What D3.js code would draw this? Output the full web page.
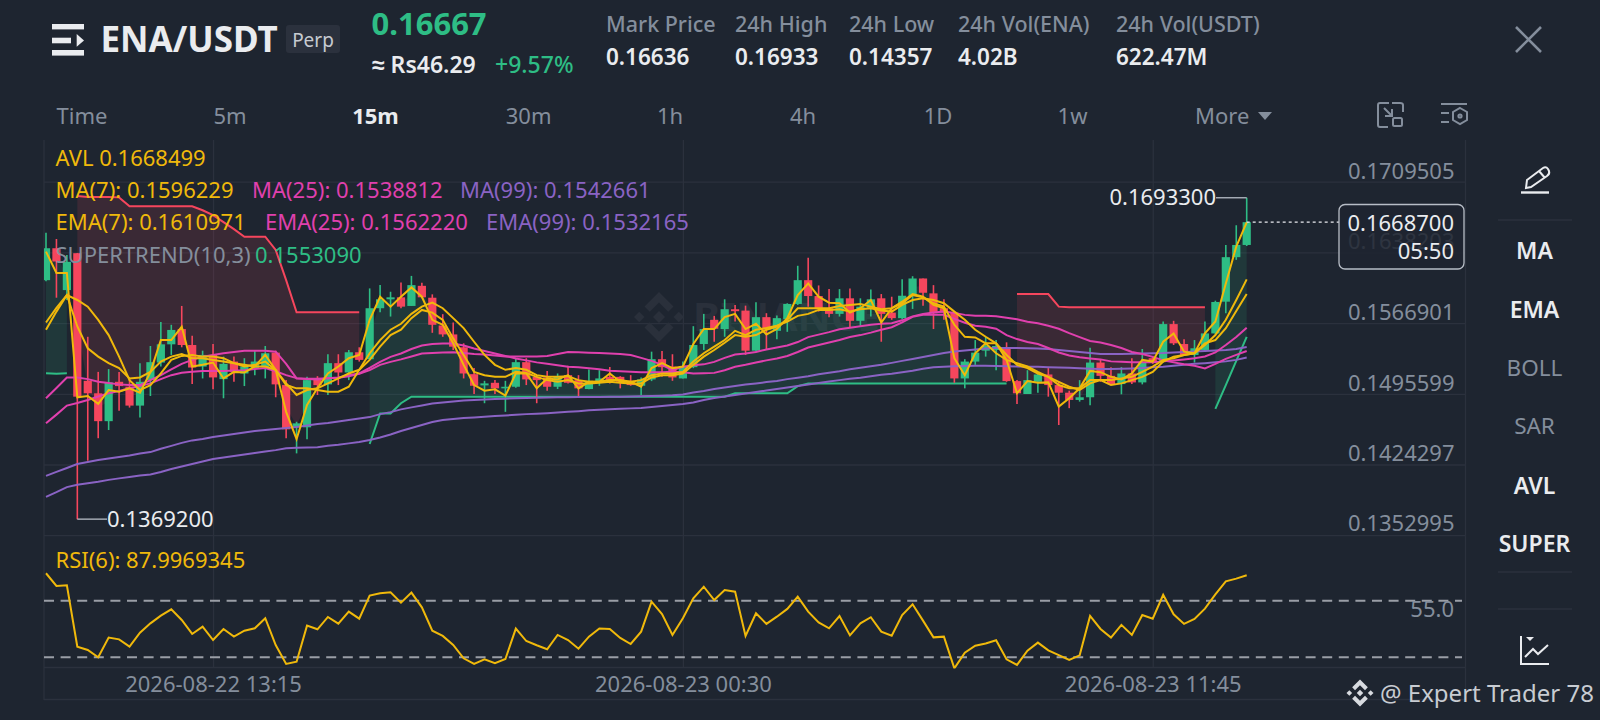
<!DOCTYPE html>
<html><head><meta charset="utf-8">
<script src="https://cdn.jsdelivr.net/npm/d3@7"></script>
<style>html,body{margin:0;background:#1E2530;overflow:hidden}svg{display:block}text{font-family:"Noto Sans",sans-serif}</style>
</head><body><svg id="c" width="1600" height="720"></svg>
<script>
const priceTicks=[0.1709505,0.1638203,0.1566901,0.1495599,0.1424297,0.1352995];
const timeTickIndex=[16,61,106];
const timeTickLabels=["2026-08-22 13:15","2026-08-23 00:30","2026-08-23 11:45"];
const open=[
.16102,.16424,.16002,.16374,.15087,.14961,.1468,.15077,.15027,.14837,
.15094,.15271,.15455,.15609,.15448,.15231,.15348,.15104,.15281,.15161,
.15215,.15225,.15371,.15044,.14618,.14618,.15101,.15051,.15265,.15171,
.15375,.15305,.15819,.15909,.15929,.15842,.16045,.15925,.15645,.15555,
.15425,.15154,.15041,.15067,.15011,.15027,.15275,.15127,.15121,.15027,
.15144,.15094,.15004,.15077,.15127,.15127,.15087,.15037,.15101,.15305,
.15231,.15111,.15225,.15458,.15702,.15609,.15809,.15795,.15391,.15729,
.15591,.15709,.15862,.16102,.15942,.15819,.15762,.15919,.15692,.15819,
.15919,.15775,.15719,.15942,.16119,.15969,.15819,.15775,.15111,.15281,
.15391,.15398,.15415,.15084,.14954,.15077,.15151,.15044,.14967,.14894,
.14921,.15271,.15137,.15054,.15161,.15071,.15315,.15281,.15659,.15458,
.15348,.15398,.15565,.15885,.16334,.16457];
const high=[
.1658,.16517,.16357,.16377,.15531,.15177,.15205,.15177,.15111,.15265,
.15438,.15679,.15652,.15842,.15541,.15391,.15458,.15331,.15331,.15315,
.15398,.15438,.15391,.15094,.14674,.15127,.15134,.15355,.15355,.15398,
.15425,.16019,.16052,.15985,.16079,.16145,.16075,.15959,.15759,.15675,
.15465,.15215,.15087,.15094,.15087,.15308,.15315,.15144,.15187,.15161,
.15238,.15144,.15201,.15194,.15227,.15134,.15144,.15121,.15381,.15388,
.15355,.15281,.15638,.15762,.15742,.15909,.15852,.15845,.15879,.15769,
.15745,.15869,.16247,.16327,.16049,.16012,.16012,.16019,.15919,.16009,
.15962,.15935,.16112,.16142,.16119,.16052,.15909,.15785,.15305,.15498,
.15531,.15498,.15475,.15094,.15194,.15167,.15215,.15077,.14987,.15094,
.15421,.15298,.15225,.15225,.15315,.15408,.15331,.15685,.15692,.15505,
.15498,.15685,.15895,.16457,.16657,.16933];
const low=[
.16092,.15925,.15902,.13692,.14281,.14508,.14591,.14784,.14817,.14718,
.14934,.15231,.15348,.15425,.15054,.15111,.15001,.14911,.15077,.15034,
.15144,.15111,.14921,.14508,.14355,.14498,.14944,.14944,.15044,.15094,
.15281,.15298,.15779,.15735,.15819,.15842,.15919,.15571,.15531,.15398,
.15111,.14954,.14861,.14954,.14774,.15017,.15044,.14861,.14987,.15004,
.15061,.14934,.15001,.15037,.15061,.15011,.15037,.14944,.15084,.15127,
.15087,.15111,.15215,.15398,.15481,.15531,.15685,.15348,.15381,.15398,
.15505,.15581,.15852,.15835,.15785,.15729,.15735,.15619,.15642,.15735,
.15481,.15702,.15709,.15812,.15845,.15609,.15702,.15067,.15011,.15248,
.15331,.15194,.15077,.14854,.14954,.14967,.14927,.14641,.14811,.14877,
.14841,.15077,.15054,.14951,.15054,.15051,.15258,.15271,.15448,.15338,
.15271,.15391,.15558,.15769,.16307,.16447];
const close=[
.16424,.1629,.16287,.14927,.14961,.1468,.15071,.15034,.14837,.15077,
.15275,.15455,.156,.15448,.15221,.15348,.15121,.15258,.15177,.15231,
.15281,.15365,.15051,.14598,.14658,.15094,.15044,.15265,.15171,.15375,
.15298,.15819,.15909,.15929,.15835,.16052,.15929,.15652,.15555,.15431,
.15161,.15037,.15061,.15011,.15027,.15275,.15101,.15094,.15027,.15127,
.15067,.15011,.15087,.15111,.15087,.15077,.15044,.15101,.15305,.15225,
.15121,.15231,.15448,.15609,.15612,.15809,.15789,.15391,.15729,.15602,
.15719,.15862,.16102,.15942,.15809,.15762,.15919,.15692,.15835,.15909,
.15762,.15719,.15945,.16119,.15975,.15769,.15775,.15111,.15281,.15371,
.15441,.15438,.15084,.14961,.15094,.15151,.15044,.14967,.14894,.14921,
.15271,.15137,.15054,.15161,.15071,.15271,.15271,.15659,.15465,.15348,
.15415,.15565,.15882,.16334,.16457,.16687];
const avl=[
.1639,.16175,.16175,.14921,.14934,.14854,.14994,.14977,.15011,.14967,
.15174,.15498,.15498,.15632,.15231,.15248,.15271,.15111,.15177,.15171,
.15231,.15348,.15198,.14774,.14498,.14844,.15014,.15161,.15231,.15315,
.15348,.15702,.15935,.15835,.15935,.16029,.15935,.15702,.15652,.15465,
.15248,.15044,.14987,.15001,.14937,.15161,.15161,.15011,.15111,.15101,
.15144,.15011,.15077,.15077,.15161,.15077,.15077,.15027,.15215,.15265,
.15215,.15231,.15458,.15609,.15609,.15729,.15762,.15609,.15662,.15555,
.15609,.15719,.15952,.16069,.15935,.15875,.15869,.15775,.15819,.15902,
.15675,.15819,.15885,.15962,.15935,.15852,.15819,.15315,.15144,.15365,
.15465,.15465,.15298,.14961,.15084,.15067,.15071,.14827,.14911,.15011,
.15187,.15174,.15127,.15101,.15161,.15298,.15281,.15481,.15565,.15381,
.15365,.15565,.15685,.16069,.1644,.16685];
const ma7=[
.15602,.15785,.15952,.15902,.15835,.15702,.15548,.15331,.15094,.14994,
.15044,.15161,.15298,.15338,.15348,.15331,.15331,.15315,.15265,.15248,
.15231,.15231,.15198,.15044,.15011,.15011,.14994,.14977,.14977,.15027,
.15198,.15365,.15498,.15602,.15662,.15762,.15835,.15875,.15819,.15719,
.15619,.15481,.15348,.15248,.15198,.15215,.15198,.15144,.15127,.15127,
.15134,.15094,.15077,.15077,.15094,.15094,.15077,.15094,.15144,.15161,
.15161,.15177,.15281,.15365,.15431,.15498,.15591,.15548,.15602,.15619,
.15642,.15685,.15742,.15762,.15802,.15802,.15809,.15785,.15809,.15819,
.15795,.15785,.15852,.15902,.15919,.15902,.15869,.15785,.15702,.15602,
.15531,.15465,.15348,.15248,.15215,.15161,.15127,.15077,.15027,.14994,
.15061,.15094,.15094,.15111,.15127,.15177,.15231,.15298,.15315,.15348,
.15365,.15465,.15498,.15618,.15792,.15962];
const ema7=[
.15675,.15822,.15952,.15635,.15415,.15331,.15265,.15215,.15111,.15121,
.15177,.15281,.15331,.15358,.15315,.15315,.15298,.15281,.15265,.15231,
.15248,.15281,.15194,.15061,.14944,.14994,.15011,.15061,.15111,.15161,
.15198,.15298,.15431,.15548,.15602,.15719,.15802,.15775,.15702,.15515,
.15348,.15177,.15144,.15127,.15127,.15177,.15167,.15127,.15094,.15077,
.15094,.15061,.15061,.15067,.15077,.15067,.15061,.15061,.15121,.15144,
.15144,.15161,.15248,.15331,.15398,.15471,.15548,.15531,.15548,.15602,
.15635,.15702,.15819,.15819,.15819,.15819,.15842,.15852,.15862,.15835,
.15809,.15819,.15869,.15952,.15929,.15869,.15835,.15652,.15531,.15525,
.15465,.15365,.15298,.15265,.15231,.15177,.15127,.15044,.15011,.15011,
.15094,.15094,.15044,.15061,.15094,.15127,.15177,.15281,.15331,.15348,
.15365,.15448,.15548,.15702,.15902,.16110];
const ma25=[
.14658,.14746,.14837,.14864,.14894,.14929,.14961,.14984,.15011,.15034,
.15061,.15104,.15144,.15169,.15179,.15187,.15187,.15187,.15191,.15194,
.15205,.15215,.15184,.15144,.15114,.15107,.15109,.15114,.15119,.15134,
.15159,.15194,.15248,.15278,.15303,.15333,.15363,.15368,.15373,.15375,
.15368,.15358,.15353,.15343,.15333,.15331,.15331,.15331,.15338,.15358,
.15378,.15375,.15371,.15368,.15363,.15358,.15348,.15318,.15288,.15248,
.15194,.15228,.15243,.15253,.15278,.15318,.15353,.15363,.15378,.15403,
.15423,.15443,.15478,.15528,.15553,.15578,.15607,.15622,.15637,.15652,
.15662,.15667,.15697,.15737,.15762,.15777,.15785,.15772,.15752,.15742,
.15742,.15737,.15722,.15707,.15682,.15667,.15642,.15612,.15568,.15528,
.15488,.15473,.15448,.15418,.15378,.15358,.15328,.15293,.15273,.15253,
.15238,.15211,.15258,.15308,.15348,.15388];
const ema25=[
.14911,.15014,.15121,.15121,.15104,.15077,.15064,.15051,.15044,.15044,
.15094,.15144,.15203,.15258,.15298,.15331,.15348,.15365,.15378,.15391,
.15391,.15391,.15381,.15258,.15111,.15104,.15101,.15114,.15121,.15144,
.15161,.15218,.15278,.15328,.15363,.15408,.15443,.15458,.15463,.15463,
.15443,.15413,.15388,.15363,.15338,.15313,.15293,.15273,.15258,.15243,
.15228,.15223,.15213,.15203,.15189,.15184,.15179,.15174,.15174,.15174,
.15179,.15174,.15161,.15164,.15167,.15194,.15228,.15248,.15271,.15293,
.15313,.15338,.15378,.15423,.15448,.15473,.15498,.15528,.15548,.15573,
.15602,.15627,.15677,.15732,.15752,.15752,.15752,.15712,.15672,.15642,
.15632,.15612,.15548,.15508,.15478,.15458,.15418,.15373,.15343,.15325,
.15313,.15303,.15283,.15278,.15273,.15273,.15275,.15283,.15293,.15303,
.15315,.15333,.15373,.15448,.15528,.15622];
const ma99=[
.14128,.14168,.14208,.14248,.14268,.14288,.14303,.14318,.14333,.14353,
.14368,.14401,.14431,.14461,.14486,.14501,.14521,.14536,.14551,.14566,
.14581,.14591,.14601,.14611,.14621,.14636,.14651,.14661,.14676,.14691,
.14706,.14721,.14751,.14771,.14799,.14819,.14839,.14859,.14869,.14879,
.14889,.14894,.14899,.14904,.14907,.14911,.14914,.14916,.14919,.14921,
.14922,.14923,.14924,.14924,.14926,.14927,.14929,.14932,.14934,.14937,
.14941,.14949,.14969,.14984,.15004,.15019,.15034,.15049,.15061,.15074,
.15084,.15104,.15119,.15134,.15154,.15169,.15184,.15203,.15218,.15233,
.15248,.15268,.15288,.15308,.15328,.15348,.15368,.15383,.15393,.15403,
.15413,.15418,.15418,.15418,.15415,.15413,.15408,.15398,.15388,.15378,
.15368,.15358,.15358,.15358,.15361,.15363,.15366,.15368,.15373,.15378,
.15383,.15388,.15393,.15398,.15408,.15427];
const ema99=[
.13917,.13964,.14015,.14038,.14053,.14068,.14088,.14103,.14118,.14133,
.14143,.14168,.14198,.14223,.14248,.14273,.14298,.14313,.14328,.14343,
.14358,.14373,.14388,.14406,.14411,.14414,.14418,.14431,.14441,.14456,
.14471,.14491,.14516,.14546,.14581,.14611,.14641,.14671,.14691,.14701,
.14711,.14718,.14724,.14731,.14738,.14744,.14751,.14756,.14761,.14768,
.14774,.14781,.14789,.14794,.14799,.14804,.14809,.14814,.14824,.14834,
.14844,.14854,.14869,.14894,.14914,.14929,.14944,.14959,.14974,.14989,
.15004,.15019,.15034,.15049,.15064,.15079,.15094,.15107,.15119,.15134,
.15147,.15159,.15174,.15189,.15208,.15223,.15228,.15233,.15236,.15238,
.15238,.15236,.15233,.15231,.15228,.15228,.15225,.15221,.15218,.15213,
.15208,.15205,.15205,.15208,.15211,.15215,.15223,.15228,.15238,.15248,
.15258,.15265,.15273,.15283,.15298,.15322];
const _=null;
const superUp=[
.15164,.15159,.15164,_,_,_,_,_,_,_,
_,_,_,_,_,_,_,_,_,_,
_,_,_,_,_,_,_,_,_,_,
_,.1445,.14758,.14758,.14861,.14927,.14927,.14927,.14927,.14927,
.14927,.14927,.14927,.14927,.14927,.14927,.14927,.14927,.14927,.14927,
.14927,.14927,.14927,.14927,.14927,.14927,.14927,.14927,.14927,.14927,
.14927,.14927,.14927,.14927,.14927,.14927,.14961,.14961,.14961,.14961,
.14961,.14961,.15034,.15061,.15061,.15061,.15061,.15061,.15061,.15061,
.15061,.15061,.15061,.15061,.15061,.15061,.15061,.15061,.15061,.15061,
.15061,.15061,.15061,_,_,_,_,_,_,_,
_,_,_,_,_,_,_,_,_,_,
_,_,.14804,.15044,.15288,.15531];
const superDown=[
_,_,_,.1695,.1694,.1694,.1694,.16937,.16848,.16848,
.16848,.16848,.16848,.16848,.16848,.16807,.16757,.16687,.16617,.1654,
.1654,.1654,.16407,.16102,.15779,.15779,.15779,.15779,.15779,.15779,
.15779,_,_,_,_,_,_,_,_,_,
_,_,_,_,_,_,_,_,_,_,
_,_,_,_,_,_,_,_,_,_,
_,_,_,_,_,_,_,_,_,_,
_,_,_,_,_,_,_,_,_,_,
_,_,_,_,_,_,_,_,_,_,
_,_,_,.15962,.15962,.15962,.15962,.15835,.15829,.15829,
.15829,.15829,.15829,.15829,.15829,.15829,.15829,.15829,.15829,.15829,
.15829,.15829,_,_,_,_];
const rsi6=[
89.4,80.4,80.9,37.5,35.2,30,43.9,42.7,37.5,47.4,
54,59.4,63.9,56.4,46.5,51.7,42.2,50,44.6,48.8,
50.5,57.6,38.7,25.3,26.9,52.4,49.8,58.5,53.8,62.3,
57.3,73.6,75.2,75.9,68.6,75.7,65.3,48.8,45.1,38.7,
29.3,25.3,28.6,25.8,28.8,50.3,41.5,38.5,35.7,45.8,
42.2,36.1,44.6,50.3,50,43.7,39.4,48.1,69.3,60.6,
45.8,57.6,71.7,79.9,70.5,77.6,76.4,45.1,61.1,53.6,
58.7,64.2,72.9,62.3,54.7,50.5,59.2,45.5,54,58.3,
48.1,45.3,59.9,67.5,55.9,44.1,44.6,22.2,33.3,38.2,
39.7,42,28.6,24.6,34.7,40.4,34.9,31.6,28.1,31.4,
59.2,50,43.9,52.9,45.8,59.9,57.3,74.1,60.4,53.6,
57.1,64.4,74.5,83.7,85.6,88];
const tabs=["Time","5m","15m","30m","1h","4h","1D","1w"];
const sideButtons=["MA","EMA","BOLL","SAR","AVL","SUPER"];
const sideActive=["MA","EMA","AVL","SUPER"];
const headerNames=["Mark Price","24h High","24h Low","24h Vol(ENA)","24h Vol(USDT)"];
const headerValues=["0.16636","0.16933","0.14357","4.02B","622.47M"];

const GREEN="#2EBD85",RED="#F6465D",GOLD="#F0B90B",PINK="#E040AE",PURPLE="#8A63C4",GREY="#848E9C",WHITE="#EAECEF",GRID="#2B313D";
const FS=22;
const svg=d3.select("#c");
const L=44,R=1465.5;
const x=d3.scaleLinear().domain([0,115]).range([46,1246.7]);
const y=d3.scaleLinear().domain([0.1352995,0.1709505]).range([535.2,181.7]);
const yr=d3.scaleLinear().domain([30,70]).range([657.3,600.7]);
const defs=svg.append("defs");
defs.append("clipPath").attr("id","cp").append("rect").attr("x",L).attr("y",140).attr("width",R-L).attr("height",400);
defs.append("clipPath").attr("id","cr").append("rect").attr("x",L).attr("y",540).attr("width",R-L).attr("height",128.5);
function txt(t,px,py,o={}){return svg.append("text").text(t).attr("x",px).attr("y",py).attr("dy",".35em")
  .attr("fill",o.fill||WHITE).attr("font-size",o.size||FS).attr("font-weight",o.w||400).attr("text-anchor",o.a||"start");}

// frame and grid
const frame=svg.append("g").attr("stroke",GRID).attr("stroke-width",1.3);
frame.append("line").attr("x1",L).attr("x2",L).attr("y1",140).attr("y2",700);
frame.append("line").attr("x1",R).attr("x2",R).attr("y1",140).attr("y2",700);
frame.append("line").attr("x1",L).attr("x2",R).attr("y1",667.5).attr("y2",667.5);
frame.append("line").attr("x1",L).attr("x2",R).attr("y1",699.5).attr("y2",699.5);
const gridY=svg.append("g").attr("transform",`translate(${L},0)`).call(d3.axisRight(y).tickValues(priceTicks).tickSize(R-L).tickFormat(""));
gridY.select(".domain").remove();gridY.selectAll("line").attr("stroke",GRID).attr("stroke-width",1.3);
const gridX=svg.append("g").attr("transform","translate(0,667)").call(d3.axisTop(x).tickValues(timeTickIndex).tickSize(527).tickFormat(""));
gridX.select(".domain").remove();gridX.selectAll("line").attr("stroke",GRID).attr("stroke-width",1.3);

// watermark
function binanceLogo(g,cx,cy,s,fill){
  const paths=["M0,-1 L.58,-.42 L.37,-.21 L0,-.58 L-.37,-.21 L-.58,-.42Z","M0,1 L.58,.42 L.37,.21 L0,.58 L-.37,.21 L-.58,.42Z",
   "M-1,0 L-.79,-.21 L-.58,0 L-.79,.21Z","M1,0 L.79,-.21 L.58,0 L.79,.21Z","M0,-.24 L.24,0 L0,.24 L-.24,0Z"];
  g.append("g").attr("transform",`translate(${cx},${cy}) scale(${s})`).selectAll("path").data(paths).join("path").attr("d",d=>d).attr("fill",fill);
}
const chart=svg.append("g").attr("clip-path","url(#cp)");
binanceLogo(chart,659,317,25,"#2A303B");
chart.append("text").text("BINANCE").attr("x",693).attr("y",331).attr("fill","#2A303B").attr("font-size",40).attr("font-weight",700).attr("textLength",187).attr("lengthAdjust","spacingAndGlyphs");

// supertrend fill and lines
const mid=i=>(open[i]+close[i])/2;
const idx=d3.range(open.length);
function stBand(arr,fill,line){
  const area=d3.area().defined(i=>arr[i]!==null).x(x).y0(i=>y(mid(i))).y1(i=>y(arr[i]));
  chart.append("path").datum(idx).attr("d",area).attr("fill",fill);
  const ln=d3.line().defined(i=>arr[i]!==null).x(x).y(i=>y(arr[i]));
  chart.append("path").datum(idx).attr("d",ln).attr("fill","none").attr("stroke",line).attr("stroke-width",2);
}
stBand(superDown,"rgba(246,70,93,.13)",RED);
stBand(superUp,"rgba(46,189,133,.13)",GREEN);

// candles
const cg=chart.append("g").selectAll("g").data(idx).join("g");
cg.append("line").attr("x1",x).attr("x2",x).attr("y1",i=>y(high[i])).attr("y2",i=>y(low[i]))
  .attr("stroke",i=>close[i]>=open[i]?GREEN:RED).attr("stroke-width",1.6);
cg.append("rect").attr("x",i=>x(i)-4.1).attr("width",8.2)
  .attr("y",i=>y(Math.max(open[i],close[i]))).attr("height",i=>Math.max(1.5,Math.abs(y(open[i])-y(close[i]))))
  .attr("fill",i=>close[i]>=open[i]?GREEN:RED);

// indicator lines
const lineOf=d3.line().x((d,i)=>x(i)).y(d=>y(d));
[[ema99,PURPLE],[ma99,PURPLE],[ma25,PINK],[ema25,PINK],[ma7,GOLD],[ema7,GOLD],[avl,GOLD]].forEach(([a,c])=>{
  chart.append("path").datum(a).attr("d",lineOf).attr("fill","none").attr("stroke",c).attr("stroke-width",2);
});

// price axis labels
const axisP=svg.append("g").attr("transform",`translate(${R},0)`).call(d3.axisLeft(y).tickValues(priceTicks).tickSize(0).tickPadding(11).tickFormat(d3.format(".7f")));
axisP.select(".domain").remove();
axisP.selectAll("text").attr("fill",GREY).attr("font-size",FS).attr("dy","-0.16em").style("font-family",'"Noto Sans",sans-serif');
axisP.selectAll("g.tick").filter(d=>d===0.1352995).select("text").attr("dy","-0.22em");
const axisT=svg.append("g").attr("transform","translate(0,672)").call(d3.axisBottom(x).tickValues(timeTickIndex).tickSize(0).tickPadding(4).tickFormat((d,i)=>timeTickLabels[i]));
axisT.select(".domain").remove();
axisT.selectAll("text").attr("fill",GREY).attr("font-size",FS).style("font-family",'"Noto Sans",sans-serif');

// legend
const legendRows=[["AVL 0.1668499",55.5,158.3,GOLD],["MA(7): 0.1596229",55.5,190,GOLD],["MA(25): 0.1538812",252,190,PINK],["MA(99): 0.1542661",460,190,PURPLE],
 ["EMA(7): 0.1610971",55.5,222.7,GOLD],["EMA(25): 0.1562220",265,222.7,PINK],["EMA(99): 0.1532165",486,222.7,PURPLE],
 ["SUPERTREND(10,3)",55.5,255,GREY],["0.1553090",255,255,GREEN]];
legendRows.forEach(r=>txt(r[0],r[1],r[2],{fill:r[3]}));

// high/low annotations
const ann=svg.append("g").attr("stroke","#B7BDC6").attr("stroke-width",1.3);
ann.append("line").attr("x1",1216).attr("x2",x(115)).attr("y1",y(0.16933)).attr("y2",y(0.16933));
ann.append("line").attr("x1",x(3)).attr("x2",107).attr("y1",y(0.13692)).attr("y2",y(0.13692));
txt("0.1693300",1216,y(0.16933),{a:"end"});
txt("0.1369200",107,y(0.13692));

// current price
svg.append("line").attr("x1",x(115)).attr("x2",1339).attr("y1",y(0.16687)).attr("y2",y(0.16687)).attr("stroke",WHITE).attr("stroke-width",1.2).attr("stroke-dasharray","3,3");
svg.append("rect").attr("x",1339).attr("y",204.5).attr("width",125).attr("height",64.5).attr("rx",6).attr("fill","rgba(30,37,48,.85)").attr("stroke","#B7BDC6").attr("stroke-width",1.3);
txt("0.1668700",1454,223,{a:"end"});txt("05:50",1454,251.5,{a:"end"});

// RSI
const rsiG=svg.append("g");
[70,30].forEach(v=>rsiG.append("line").attr("x1",L).attr("x2",1462).attr("y1",yr(v)).attr("y2",yr(v)).attr("stroke","#9A9EA6").attr("stroke-width",2).attr("stroke-dasharray","10,6.6"));
rsiG.append("g").attr("clip-path","url(#cr)").append("path").datum(rsi6)
  .attr("d",d3.line().x((d,i)=>x(i)).y(d=>yr(d))).attr("fill","none").attr("stroke",GOLD).attr("stroke-width",2);
txt("RSI(6): 87.9969345",55.5,560.7,{fill:GOLD});
txt("55.0",1454,609,{fill:GREY,a:"end"});

// header
const ic=svg.append("g").attr("fill",WHITE);
ic.append("rect").attr("x",52).attr("y",24).attr("width",32).attr("height",5.4);
ic.append("rect").attr("x",52).attr("y",37.7).attr("width",19).attr("height",5.6);
ic.append("path").attr("d","M76.7,34 L84,40.4 L76.7,46.8Z");
ic.append("rect").attr("x",52).attr("y",50).attr("width",32).attr("height",5.6);
txt("ENA/USDT",100.5,40,{size:35,w:700});
svg.append("rect").attr("x",286).attr("y",25).attr("width",54).attr("height",28).attr("rx",3).attr("fill","#2B313D");
txt("Perp",313,40,{size:19,a:"middle",fill:"#C7CBD1"});
txt("0.16667",371.5,24.5,{size:31,w:700,fill:GREEN});
txt("≈ Rs46.29",372,65,{size:23,w:600});
txt("+9.57%",495,65,{size:23,w:500,fill:GREEN});
const hx=[606,735,849,958,1116];
headerNames.forEach((n,i)=>{txt(n,hx[i],24.5,{fill:GREY,size:21.5,w:500});txt(headerValues[i],hx[i],57,{size:22.5,w:600});});
svg.append("path").attr("d","M1516,27 L1541,52 M1541,27 L1516,52").attr("stroke",GREY).attr("stroke-width",2.6).attr("fill","none");

// tabs
const tabX=[82,230,375.5,528.6,670,803,938,1072.5];
tabs.forEach((t,i)=>txt(t,tabX[i],116,{a:"middle",fill:t==="15m"?WHITE:GREY,w:t==="15m"?700:400,size:22}));
txt("More",1195,116,{fill:GREY,size:22});
svg.append("path").attr("d","M1258,112 L1272,112 L1265,120Z").attr("fill",GREY);
const ti=svg.append("g").attr("fill","none").attr("stroke",GREY).attr("stroke-width",2);
ti.append("path").attr("d","M1389,103 H1380 Q1378,103 1378,105 V125 Q1378,127 1380,127 H1388 M1392,103 H1400 Q1403,103 1403,105 V112 M1384,108 L1392,116 M1392,109 V116 H1385");
ti.append("rect").attr("x",1393).attr("y",118).attr("width",9).attr("height",8).attr("rx",1.5);
ti.append("path").attr("d","M1441,104 H1467 M1441,113 H1449 M1441,122 H1449 M1460,108 L1467,112 V120 L1460,124 L1453,120 V112Z");
ti.append("circle").attr("cx",1460).attr("cy",116).attr("r",1.6);

// sidebar
const sy=[251,310,368.5,426.5,485.7,544];
sideButtons.forEach((t,i)=>{const on=sideActive.includes(t);txt(t,1534.5,sy[i],{a:"middle",size:on?23:22.5,w:on?600:400,fill:on?WHITE:GREY});});
const sep=svg.append("g").attr("stroke",GRID).attr("stroke-width",1.3);
[220,572,609].forEach(v=>sep.append("line").attr("x1",1498).attr("x2",1572).attr("y1",v).attr("y2",v));
svg.append("path").attr("d","M1526,188 L1527,180 L1543,168 Q1546,166 1548,169 L1549,171 Q1550,174 1547,176 L1531,187Z M1539,171 L1545,178").attr("fill","none").attr("stroke",WHITE).attr("stroke-width",2);
svg.append("line").attr("x1",1521).attr("x2",1549).attr("y1",192.5).attr("y2",192.5).attr("stroke",WHITE).attr("stroke-width",2.4);
svg.append("path").attr("d","M1521,636 V664 H1549 M1525,657 L1533,649 L1538,654 L1548,645").attr("fill","none").attr("stroke",WHITE).attr("stroke-width",2);
svg.append("path").attr("d","M1526,637 H1534 L1530,641Z").attr("fill",WHITE);

// credit
binanceLogo(svg,1360,693,13.5,"#D8DBE0");
txt("@ Expert Trader 78",1380,694,{size:24,fill:"#C8CCD2"});
</script></body></html>
